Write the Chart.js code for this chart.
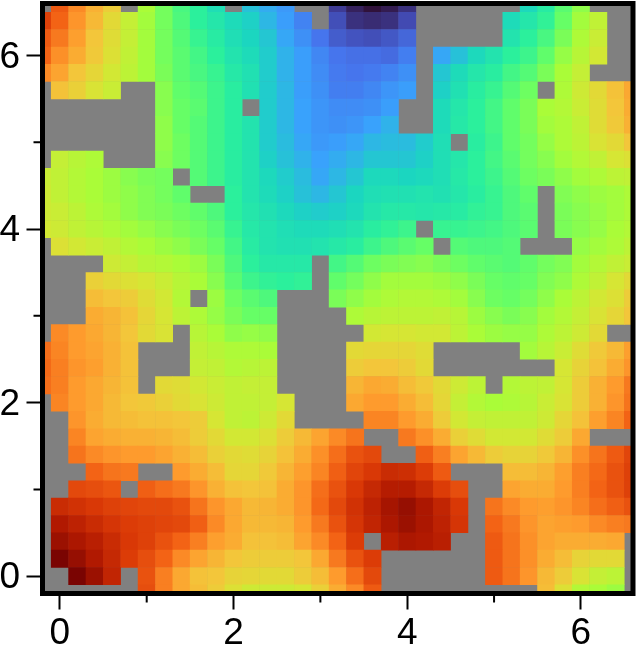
<!DOCTYPE html>
<html>
<head>
<meta charset="utf-8">
<title>Heatmap</title>
<script src="https://cdn.jsdelivr.net/npm/chart.js@4/dist/chart.umd.min.js"></script>
<style>
  html, body { margin: 0; padding: 0; background: #fff; }
  #wrap { width: 638px; height: 645px; }
</style>
</head>
<body>
<div id="wrap"><canvas id="chart"></canvas></div>
<script>
const N = null;

const xCenters = [-0.2, 0, 0.2, 0.4, 0.6, 0.8, 1, 1.2, 1.4, 1.6, 1.8, 2, 2.2, 2.4, 2.6, 2.8, 3, 3.2, 3.4, 3.6, 3.8, 4, 4.2, 4.4, 4.6, 4.8, 5, 5.2, 5.4, 5.6, 5.8, 6, 6.2, 6.4, 6.6];
const yCenters = [6.6, 6.4, 6.2, 6, 5.8, 5.6, 5.4, 5.2, 5, 4.8, 4.6, 4.4, 4.2, 4, 3.8, 3.6, 3.4, 3.2, 3, 2.8, 2.6, 2.4, 2.2, 2, 1.8, 1.6, 1.4, 1.2, 1, 0.8, 0.6, 0.4, 0.2, 0, -0.2];
const tickLabels = ['0', '2', '4', '6'];

// one row per y, top to bottom. N = no data (grey)
const cells = [
  [N,112,103,95,88,N,70,62,55,50,43,N,36,32,28,N,N,8,3,0,2,6,N,N,N,N,N,N,41,48,58,66,N,N,N],
  [118,110,101,93,84,76,69,62,56,50,46,42,39,34,29,23,N,12,6,5,6,11,N,N,N,N,N,42,46,51,60,69,75,N,N],
  [112,106,99,90,83,76,69,62,57,52,48,43,40,37,31,26,20,15,13,12,14,17,N,N,N,N,N,45,50,55,63,71,77,N,N],
  [110,102,96,89,82,75,69,62,58,54,50,45,42,38,33,29,24,20,19,19,18,22,N,31,36,41,45,50,53,59,67,73,79,N,N],
  [103,98,90,85,79,74,69,63,58,55,52,47,44,38,33,29,25,21,20,21,23,26,N,37,42,46,49,54,57,63,70,76,N,N,N],
  [N,91,87,81,77,N,N,65,59,57,53,49,44,38,34,29,26,22,22,24,27,29,N,39,44,49,52,57,61,N,71,78,84,91,97],
  [N,N,N,N,N,N,N,65,60,58,53,49,N,38,34,30,27,25,25,26,29,N,N,42,46,50,54,59,63,70,72,77,83,90,96],
  [N,N,N,N,N,N,N,66,60,57,53,49,45,38,34,30,27,26,27,30,33,N,N,42,47,50,54,59,63,69,71,75,83,89,95],
  [N,N,N,N,N,N,N,66,61,57,53,49,45,38,35,31,28,29,31,34,35,35,38,43,N,49,53,59,62,67,71,74,81,84,90],
  [N,76,73,71,N,N,N,65,61,57,53,49,45,39,36,33,30,32,34,37,37,37,39,43,46,50,54,58,62,65,69,72,75,80,82],
  [77,75,72,70,68,65,63,62,N,57,53,49,45,41,38,35,31,34,37,41,41,40,41,43,47,50,53,57,61,63,66,69,71,74,75],
  [78,75,72,70,68,66,64,62,59,N,N,50,45,42,39,36,34,37,40,43,44,44,45,44,46,49,52,56,59,N,64,66,68,69,71],
  [78,77,74,71,69,66,64,63,61,59,56,50,46,44,41,39,38,39,41,45,47,47,46,47,48,51,52,56,58,N,63,65,67,69,71],
  [79,78,75,73,71,69,67,65,63,61,58,52,47,45,43,42,42,43,45,49,51,53,N,52,52,53,54,56,58,N,63,65,67,70,72],
  [N,82,79,77,75,72,70,68,66,63,60,54,48,45,44,44,45,47,49,53,56,58,60,N,57,56,56,57,N,N,N,67,69,71,74],
  [N,N,N,N,78,76,73,72,70,68,63,56,50,47,47,47,N,54,57,61,63,64,65,63,61,59,58,57,59,62,64,69,72,75,77],
  [N,N,N,87,84,82,80,77,73,70,65,58,53,51,50,51,N,59,62,66,69,69,69,68,66,63,60,59,60,64,66,71,75,80,84],
  [N,N,N,92,90,88,83,79,72,N,68,61,58,56,N,N,N,63,66,69,71,72,72,71,69,65,61,60,62,66,70,74,79,82,88],
  [N,N,N,96,94,91,85,80,74,71,67,63,60,60,N,N,N,N,71,73,74,74,74,75,73,68,65,63,65,69,72,76,81,85,90],
  [N,103,100,97,94,90,84,81,N,73,70,66,67,66,N,N,N,N,N,79,80,80,79,79,74,70,68,67,67,71,74,78,84,N,N],
  [108,104,100,98,95,91,N,N,N,75,73,71,71,70,N,N,N,N,84,85,85,85,83,N,N,N,N,N,69,73,77,83,89,93,99],
  [109,105,101,99,95,91,N,N,N,76,75,72,73,74,N,N,N,N,88,90,90,88,84,N,N,N,N,N,N,N,80,86,91,96,101],
  [108,105,100,97,94,91,N,84,83,79,77,75,76,76,N,N,N,N,94,97,96,92,89,84,78,74,N,72,74,75,80,88,95,100,106],
  [N,104,100,97,93,90,89,87,84,81,78,75,75,76,80,N,N,N,97,100,100,96,92,85,76,72,70,71,73,77,81,88,95,101,107],
  [N,N,101,96,93,92,91,91,90,88,80,75,74,78,84,N,N,N,N,104,104,100,96,88,79,76,75,75,75,78,85,91,99,104,110],
  [N,N,104,98,96,95,95,94,92,88,84,79,79,82,88,93,98,103,107,N,N,106,102,96,87,83,79,79,79,83,88,97,N,N,N],
  [N,N,107,103,101,100,100,98,95,92,87,84,83,86,91,96,102,108,114,116,N,N,111,105,98,93,88,86,86,89,94,102,107,112,117],
  [N,N,N,110,107,106,N,N,100,96,92,85,85,89,94,99,104,111,117,120,124,123,119,112,N,N,N,92,92,94,99,105,109,114,118],
  [N,N,116,115,113,N,111,108,106,101,95,91,90,91,96,101,108,114,120,125,129,129,125,119,115,N,N,98,96,96,100,105,110,114,118],
  [N,124,122,120,118,117,116,116,114,107,101,97,93,94,96,101,109,116,122,127,132,135,131,126,120,N,107,103,100,99,101,104,108,111,114],
  [N,130,127,124,121,119,118,117,116,111,103,97,93,93,94,100,106,114,121,126,131,134,131,127,121,N,110,106,101,98,99,100,103,105,106],
  [N,134,131,128,124,120,118,114,110,105,99,96,91,91,92,98,103,110,119,N,128,131,130,128,N,N,112,107,102,98,96,96,96,97,N],
  [N,140,135,130,125,119,115,110,103,98,94,90,88,88,88,90,97,106,114,119,N,N,N,N,N,N,112,107,102,96,92,86,84,84,N],
  [N,N,140,134,126,N,114,105,97,91,90,86,85,84,84,88,92,100,108,116,N,N,N,N,N,N,112,107,101,93,88,81,76,74,N],
  [N,N,N,N,N,N,115,105,97,92,88,82,78,78,78,80,87,96,103,112,N,N,N,N,N,N,N,N,N,92,82,72,70,68,N],
];

// turbo-like colormap matched to the picture, one stop every 10 value units
const TURBO = ['#30123b', '#4145ab', '#4675ed', '#39a2fc', '#1bd6c0', '#2bf09c', '#66fe66', '#aafc38', '#d6e634', '#f3c63a', '#fe9b2d', '#f36315', '#d93806', '#b11901', '#7a0402'];

function turbo(v) {
    const i = Math.min(Math.floor(v / 10), TURBO.length - 2);
    const f = v / 10 - i;
    const mix = (a, b) => Math.round(a + (b - a) * f);
    const parts = [1, 3, 5].map(p => mix(
        parseInt(TURBO[i].slice(p, p + 2), 16),
        parseInt(TURBO[i + 1].slice(p, p + 2), 16)
    ));
    return `rgb(${parts.join(',')})`;
}

const points = [];
cells.forEach((row, r) => {
    row.forEach((v, c) => {
        if (v !== N) points.push({ x: xCenters[c], y: yCenters[r], v });
    });
});

// grey background, thick frame, short minor ticks
const framePlugin = {
    id: 'frame',
    beforeDatasetsDraw(chart) {
        const { ctx, chartArea: a } = chart;
        ctx.save();
        ctx.fillStyle = '#808080';
        ctx.fillRect(a.left, a.top, a.right - a.left, a.bottom - a.top);
        ctx.restore();
    },
    afterDraw(chart) {
        const { ctx, chartArea: a, scales } = chart;
        ctx.save();
        ctx.strokeStyle = '#000';
        ctx.lineWidth = 5;
        ctx.strokeRect(a.left, a.top, a.right - a.left, a.bottom - a.top);
        ctx.lineWidth = 2;
        [1, 3, 5].forEach(t => {
            const px = scales.x.getPixelForValue(t);
            const py = scales.y.getPixelForValue(t);
            ctx.beginPath();
            ctx.moveTo(px, a.bottom);
            ctx.lineTo(px, a.bottom + 9);
            ctx.moveTo(a.left, py);
            ctx.lineTo(a.left - 9, py);
            ctx.stroke();
        });
        ctx.restore();
    },
};

// labels may overhang the area, so the axes must not reserve margin for them
function fixMargins(scale) {
    scale.paddingTop = 0;
    scale.paddingBottom = 0;
    scale.paddingLeft = 0;
    scale.paddingRight = 0;
}

function axisOptions(afterFit, padding, labelOffset) {
    return {
        type: 'linear',
        min: -0.2,
        max: 6.6,
        afterFit,
        border: { display: false },
        grid: {
            drawOnChartArea: false,
            tickLength: 16,
            tickWidth: 2,
            tickColor: (ctx) => (ctx.tick && ctx.tick.value % 2 === 0 ? '#000' : 'rgba(0,0,0,0)'),
        },
        ticks: {
            stepSize: 1,
            includeBounds: false,
            autoSkip: false,
            maxRotation: 0,
            padding,
            labelOffset,
            color: '#000',
            font: { family: '"Liberation Sans"', size: 37 },
            callback: (value) => (value % 2 === 0 ? tickLabels[value / 2] : ''),
        },
    };
}

new Chart(document.getElementById('chart'), {
    type: 'scatter',
    data: {
        datasets: [{
            data: points,
            clip: 0,
            pointStyle: 'rect',
            borderWidth: 0,
            pointBorderWidth: 0,
            pointBackgroundColor: (ctx) => turbo(ctx.raw.v),
            // rect side is radius * sqrt(2); a bit of overlap hides seams
            pointRadius: (ctx) => {
                const sx = ctx.chart.scales.x;
                const cell = Math.abs(sx.getPixelForValue(0.2) - sx.getPixelForValue(0));
                return (cell + 0.5) / Math.SQRT2;
            },
        }],
    },
    options: {
        responsive: true,
        maintainAspectRatio: false,
        animation: false,
        events: [],
        layout: { padding: { top: 3.5, right: 5, left: 0, bottom: 0 } },
        plugins: { legend: { display: false }, tooltip: { enabled: false } },
        scales: {
            x: axisOptions((scale) => { scale.height = 51.5; fixMargins(scale); }, 2, 0),
            y: axisOptions((scale) => { scale.width = 42.5; fixMargins(scale); }, 6.5, 2),
        },
    },
    plugins: [framePlugin],
});
</script>
</body>
</html>
